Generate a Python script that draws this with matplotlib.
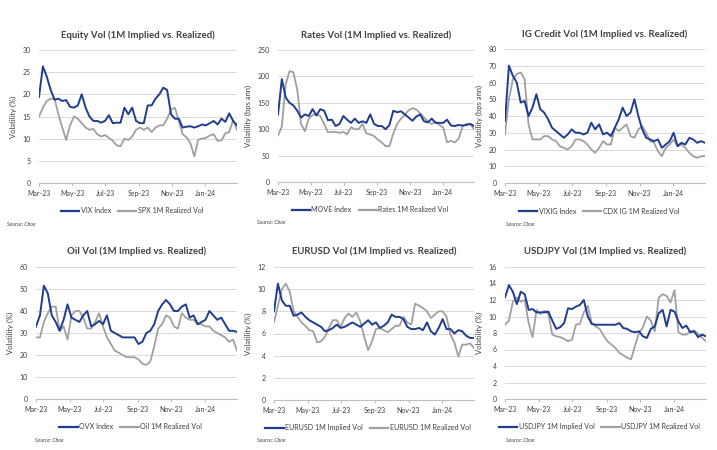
import numpy as np
import pandas as pd
import matplotlib.pyplot as plt
import matplotlib.dates as mdates

plt.rcParams['font.family'] = ['Lato', 'DejaVu Sans']

# Weekly observations, Mar-23 to end of Feb-24
dates = pd.date_range('2023-03-01', '2024-02-28', periods=52)

vix = [19.4, 26.3, 24, 21, 18.8, 19, 18.5, 18.7, 17.2, 17, 17.5, 20, 17, 15, 14, 14, 13.6, 14, 15.3, 13.5,
       13.6, 13.6, 17, 15.5, 17, 14, 13.5, 13.5, 17.5, 17.5, 19, 20, 21.5, 21, 15.5, 14.5, 14.5, 12.5, 12.7, 12.8,
       12.5, 12.8, 13.2, 13, 13.5, 14, 13.2, 14.5, 13.8, 15.7, 14, 13]
spx_rv = [15, 17, 18.5, 19, 19, 15.5, 12.5, 9.7, 13, 15, 14.5, 13.5, 12.5, 12, 12.2, 11, 10.5, 10.8, 10.2, 9.5,
          8.5, 8.3, 10, 9.7, 10.5, 12, 12.5, 12, 12.5, 11.5, 12.5, 13, 13, 14.5, 16.5, 17, 14, 11, 10.3, 9,
          6, 9.8, 10, 10.2, 10.7, 11, 9.5, 9.6, 11.2, 11.5, 14.2, 12]

move = [128, 195, 160, 150, 145, 135, 122, 128, 125, 138, 126, 138, 135, 117, 118, 106, 110, 125, 118, 112,
        120, 112, 115, 112, 128, 110, 106, 106, 100, 108, 135, 132, 134, 128, 122, 116, 124, 128, 115, 113,
        120, 112, 112, 112, 118, 107, 106, 108, 107, 108, 110, 106]
rates_rv = [88, 105, 185, 210, 208, 175, 110, 96, 120, 127, 128, 125, 110, 94, 95, 95, 93, 95, 90, 104,
            100, 100, 110, 92, 90, 87, 80, 75, 68, 68, 92, 110, 120, 127, 136, 140, 137, 130, 122, 115,
            110, 114, 108, 103, 75, 78, 75, 82, 105, 110, 110, 100]

vixig = [37, 70, 64, 60, 48, 49, 40, 45, 53, 44, 42, 38, 33, 31, 29, 27, 29, 32, 30, 30,
         29, 30, 36, 32, 35, 29, 30, 28, 33, 38, 45, 40, 42, 50, 40, 32, 27, 26, 25, 26,
         21, 23, 25, 30, 22, 24, 23, 27, 26, 24, 25, 24]
cdx_rv = [29, 50, 62, 65, 66, 62, 35, 26, 26, 26, 28, 28, 26, 25, 22, 21, 20, 22, 26, 26,
          25, 23, 20, 18, 21, 25, 23, 23, 33, 31, 33, 35, 28, 27, 32, 34, 30, 25, 24, 19,
          16, 21, 23, 26, 22, 23, 21, 18, 16, 15, 16, 16]

ovx = [33, 38, 51.5, 48, 38, 35, 31, 36, 43, 37, 36, 35, 38, 40, 33, 34, 35.5, 34, 38, 31,
       30, 29, 28, 28, 28, 28, 25, 26, 30, 31, 34, 40, 43, 45, 43, 40, 40, 42, 43, 37,
       38, 34, 35, 36, 40, 38, 36, 37, 34, 31, 31, 30.5]
oil_rv = [28, 28, 35, 39, 42, 42, 31, 33, 27, 38, 40, 40, 37, 32, 32, 35, 39, 33, 28, 25,
          22, 21, 20, 19, 19, 19, 18, 16, 15.5, 17, 24, 32, 34, 38, 37, 33, 32, 39, 37, 36,
          36, 34, 34, 33, 33, 31, 30, 29, 28, 26, 27, 22]

eur_iv = [8, 10.5, 9, 8.5, 8.5, 7.6, 7.7, 7.9, 7.5, 7.2, 7, 6.8, 6.6, 6.2, 6.3, 6.5, 6.8, 6.5, 6.6, 6.8,
          7, 6.8, 6.6, 6.9, 7.2, 6.8, 7, 6.5, 6.7, 7, 7.7, 7.5, 7.5, 7.3, 6.6, 6.4, 6.4, 6.5, 6.3, 7,
          6.2, 5.9, 6.5, 7.3, 6.4, 6.4, 6, 6.3, 6.2, 5.8, 5.6, 5.6]
eur_rv = [7, 8.5, 10, 10.5, 9.8, 8, 7.5, 7, 6.7, 6.3, 6.2, 5.2, 5.3, 5.7, 6.5, 7.2, 7.2, 6.6, 7.4, 7.8,
          7.5, 7.9, 7.1, 5.7, 4.5, 5.3, 6.4, 6.5, 6.3, 6.1, 6.4, 6.7, 6.7, 7.5, 7, 6.8, 8.7, 8.5, 8.3, 8,
          7.4, 7.7, 8, 8, 7.5, 5.9, 5.2, 3.9, 5, 5, 5.1, 4.7]

jpy_iv = [12.3, 13.8, 13, 11.5, 13, 12.7, 10.8, 10.9, 10.5, 10.5, 10.5, 10.6, 9.5, 8.5, 8.7, 9.2, 11, 10.9, 11.2, 11.4,
          12, 10, 9.1, 9, 9, 9, 9, 9, 9, 9.2, 8.6, 8.5, 8.2, 8.1, 8.2, 7.6, 7.4, 8.5, 8.8, 10.4,
          10.8, 8.8, 10.8, 10.6, 9.4, 8.6, 8.9, 8.1, 8.2, 7.5, 7.8, 7.6]
jpy_rv = [9, 9.5, 11.8, 12.3, 11.8, 12, 9.2, 7.5, 10.8, 10.3, 10.7, 10.3, 7.8, 7.6, 7.5, 7.3, 7, 7.2, 9, 9.1,
          10.5, 11.3, 9.2, 8.8, 8.5, 7.7, 7, 6.6, 6.2, 5.6, 5.3, 5, 4.8, 6.5, 8, 8.7, 10, 9.5, 8.2, 12.3,
          12.7, 12.5, 11.7, 13.2, 8.1, 7.8, 7.8, 8.2, 8.3, 7.9, 7.4, 7]

panels = [
    ('Equity Vol (1M Implied vs. Realized)', vix, spx_rv, 'VIX Index', 'SPX 1M Realized Vol', 'Volatility (%)', 30, 5),
    ('Rates Vol (1M Implied vs. Realized)', move, rates_rv, 'MOVE Index', 'Rates 1M Realized Vol', 'Volatility (bps ann)', 250, 50),
    ('IG Credit Vol (1M Implied vs. Realized)', vixig, cdx_rv, 'VIXIG Index', 'CDX IG 1M Realized Vol', 'Volatility (bps ann)', 80, 10),
    ('Oil Vol (1M Implied vs. Realized)', ovx, oil_rv, 'OVX Index', 'Oil 1M Realized Vol', 'Volatility (%)', 60, 10),
    ('EURUSD Vol (1M Implied vs. Realized)', eur_iv, eur_rv, 'EURUSD 1M Implied Vol', 'EURUSD 1M Realized Vol', 'Volatility (%)', 12, 2),
    ('USDJPY Vol (1M Implied vs. Realized)', jpy_iv, jpy_rv, 'USDJPY 1M Implied Vol', 'USDJPY 1M Realized Vol', 'Volatility (%)', 16, 2),
]

# axes boxes in pixels: left, right, top, bottom
boxes = [(39, 237, 50, 183), (278, 474, 50, 182), (505, 705, 49, 183),
         (36, 237, 267, 399), (274, 474, 267, 400), (505, 706, 267, 399)]
source_x = [7, 257, 506, 35, 257, 506]

W, H = 717, 450
fig = plt.figure(figsize=(W / 100, H / 100), dpi=100)

BLUE = '#1F3C8F'
GREY = '#A0A0A0'
TXT = '#404040'

for i, (title, iv, rv, lab1, lab2, ylab, ymax, ystep) in enumerate(panels):
    l, r, t, b = boxes[i]
    ax = fig.add_axes([l / W, 1 - b / H, (r - l) / W, (b - t) / H])
    ax.plot(dates, rv, color=GREY, lw=1.3, label=lab2, zorder=2)
    ax.plot(dates, iv, color=BLUE, lw=1.4, label=lab1, zorder=3)

    ax.set_ylim(0, ymax)
    ax.set_yticks(np.arange(0, ymax + ystep, ystep))
    ax.set_xlim(pd.Timestamp('2023-03-01'), pd.Timestamp('2024-02-28'))
    ax.xaxis.set_major_locator(mdates.MonthLocator(bymonth=[1, 3, 5, 7, 9, 11]))
    ax.xaxis.set_major_formatter(mdates.DateFormatter('%b-%y'))

    ax.grid(axis='y', color='#D9D9D9', lw=0.7)
    ax.set_axisbelow(True)
    for s in ['top', 'right', 'left']:
        ax.spines[s].set_visible(False)
    ax.spines['bottom'].set_color('#BFBFBF')
    ax.spines['bottom'].set_linewidth(0.8)
    ax.tick_params(axis='y', length=0, labelsize=5, labelcolor=TXT, pad=6)
    ax.tick_params(axis='x', length=2, color='#BFBFBF', labelsize=5, labelcolor=TXT, pad=3)

    ax.set_title(title, fontsize=6.9, fontweight='bold', color=TXT, pad=9)
    ax.set_ylabel(ylab, fontsize=5.5, color=TXT, labelpad=4)

    h, lb = ax.get_legend_handles_labels()
    leg = ax.legend(h[::-1], lb[::-1], loc='center', bbox_to_anchor=(0.47, -0.21), ncol=2, frameon=False,
                    fontsize=5.1, handlelength=2.6, handletextpad=0.2, columnspacing=1.0)
    for line in leg.get_lines():
        line.set_linewidth(1.6)
    for tx in leg.get_texts():
        tx.set_color(TXT)

    fig.text(source_x[i] / W, 1 - (b + 41) / H, 'Source: Cboe', fontsize=3.8, style='italic',
             color=TXT, va='center', ha='left')

fig.savefig('out.png', dpi=100)
